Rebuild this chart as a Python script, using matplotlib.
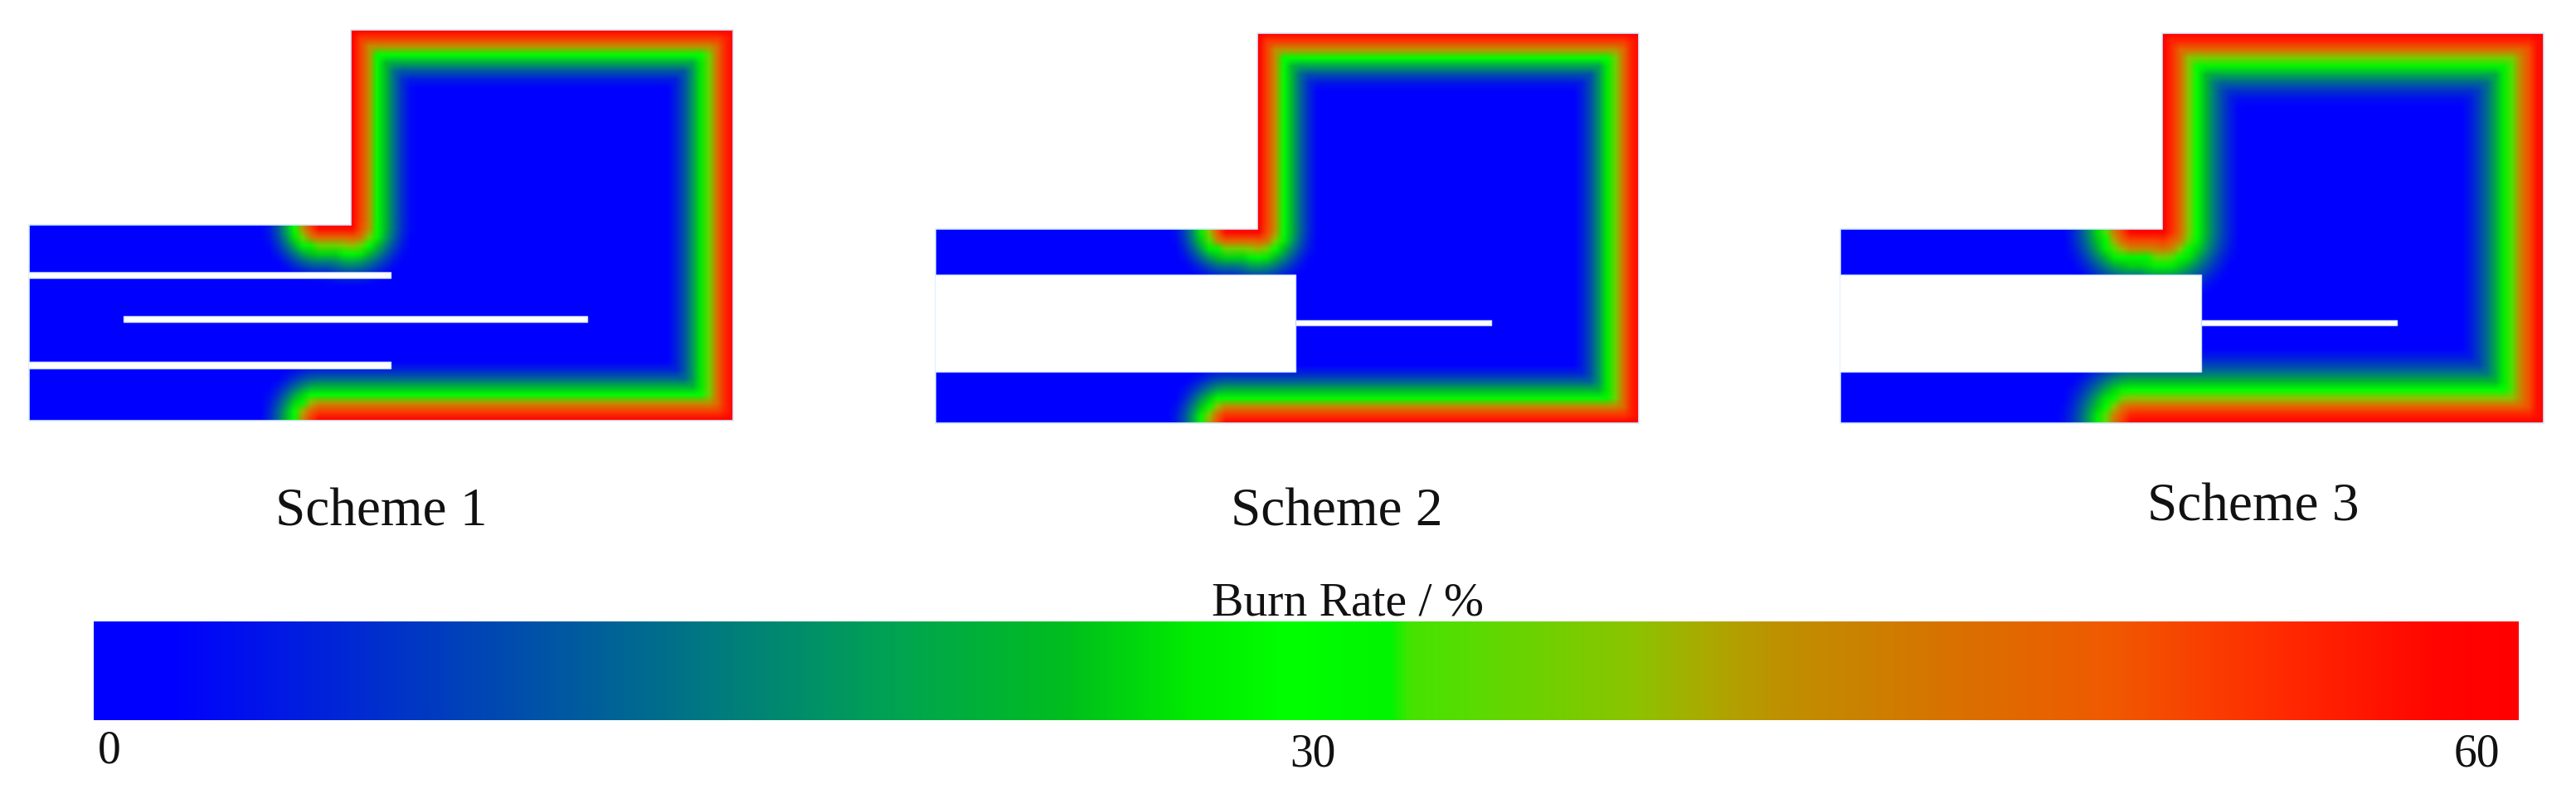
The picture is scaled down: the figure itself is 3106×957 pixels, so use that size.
#!/usr/bin/env python

import numpy as np
import matplotlib
matplotlib.use('Agg')
import matplotlib.pyplot as plt
from matplotlib.colors import LinearSegmentedColormap
from matplotlib.patches import Polygon, Rectangle

plt.rcParams['font.family'] = ['Liberation Serif', 'DejaVu Serif']

depth_px = [0, 6, 12, 18, 24, 30, 36, 42, 48, 56, 64, 74, 82]
burn_pct = [60, 57, 52, 47, 40, 32, 28, 23, 17, 11, 6, 2, 0]

# how much deeper the burn front sits in each scheme
depth_scale = [1.0, 0.98, 1.25]
# and on each wall: top, right, inner, notch, bottom
wall_scale = [0.9, 1.05, 1.0, 0.9, 0.95]

scheme_names = ['Scheme 1', 'Scheme 2', 'Scheme 3']
scheme_label_x = [460, 1612, 2717]
scheme_label_y = [634, 633, 627]

# outline: left, notch x, right, top, notch y, bottom, where the burning wall starts
left = [35, 1128, 2219]
notch_x = [423, 1516, 2607]
right = [884, 1976, 3067]
top = [36, 40, 40]
notch_y = [271, 276, 276]
bottom = [507, 510, 510]
burn_start = [385, 1480, 2572]

# white strips in each scheme: x0, x1, y0, y1
strips = [
  [(31, 471, 328, 335), (149, 708, 381, 388), (31, 471, 436, 444)],
  [(1124, 1562, 331, 448), (1562, 1798, 386, 392)],
  [(2215, 2654, 331, 448), (2654, 2890, 386, 392)],
]

# colour bar, sampled along the reference
cbar_stops = [0.0, 0.03, 0.178, 0.252, 0.333, 0.401, 0.452, 0.492, 0.535, 0.543,
              0.636, 0.665, 0.695, 0.763, 0.831, 0.899, 0.967, 1.0]
cbar_rgb = [(0, 0, 255), (0, 0, 255), (0, 80, 170), (0, 120, 130), (0, 165, 80),
            (0, 190, 30), (0, 235, 0), (0, 255, 0), (0, 245, 0), (70, 228, 0),
            (140, 195, 0), (170, 170, 0), (190, 145, 0), (215, 115, 0), (240, 90, 0),
            (255, 45, 0), (255, 5, 0), (255, 0, 0)]
cbar_ticks = ['0', '30', '60']
cbar_tick_x = [132, 1583, 2986]
cbar_tick_y = [920, 923, 923]

CELL = 10
W, H = 3106, 957

burn_cmap = LinearSegmentedColormap.from_list(
  'burn', [(s, tuple(c / 255 for c in rgb)) for s, rgb in zip(cbar_stops, cbar_rgb)], N=512)


def seg_dist(px, py, seg):
  x0, y0, x1, y1 = seg
  # segments are axis aligned so clamp to them
  cx = np.clip(px, min(x0, x1), max(x0, x1))
  cy = np.clip(py, min(y0, y1), max(y0, y1))
  return np.hypot(px - cx, py - cy)


def draw_scheme(ax, i):
  xs = np.arange(left[i] - CELL, right[i] + 2 * CELL, CELL)
  ys = np.arange(top[i] - CELL, bottom[i] + 2 * CELL, CELL)
  px, py = np.meshgrid(xs, ys)
  walls = [
    (notch_x[i], top[i], right[i], top[i]),
    (right[i], top[i], right[i], bottom[i]),
    (notch_x[i], top[i], notch_x[i], notch_y[i]),
    (burn_start[i], notch_y[i], notch_x[i], notch_y[i]),
    (burn_start[i], bottom[i], right[i], bottom[i]),
  ]
  dist = np.min([seg_dist(px, py, s) / k for s, k in zip(walls, wall_scale)], axis=0)
  field = np.interp(dist / depth_scale[i], depth_px, burn_pct)
  im = ax.imshow(field, cmap=burn_cmap, vmin=0, vmax=60, interpolation='bilinear',
                 interpolation_stage='rgba', aspect='auto', zorder=1,
                 extent=(xs[0] - CELL / 2, xs[-1] + CELL / 2, ys[-1] + CELL / 2, ys[0] - CELL / 2))
  outline = Polygon([(left[i], notch_y[i]), (notch_x[i], notch_y[i]), (notch_x[i], top[i]),
                     (right[i], top[i]), (right[i], bottom[i]), (left[i], bottom[i])],
                    closed=True, transform=ax.transData, facecolor='none',
                    edgecolor='#d4ecff', lw=1.2, zorder=2)
  ax.add_patch(outline)
  im.set_clip_path(outline)
  for x0, x1, y0, y1 in strips[i]:
    strip = Rectangle((x0, y0), x1 - x0, y1 - y0, facecolor='white',
                      edgecolor='#c8dcff', lw=1.0, zorder=3)
    ax.add_patch(strip)
    # the strip's pale edge must not stick out past the left of the domain
    strip.set_clip_path(outline)
  ax.text(scheme_label_x[i], scheme_label_y[i], scheme_names[i], fontsize=47,
          ha='center', va='baseline', color='#111111', zorder=4)


def main():
  fig = plt.figure(figsize=(W / 100, H / 100), dpi=100)
  ax = fig.add_axes([0, 0, 1, 1])

  for i in range(len(scheme_names)):
    draw_scheme(ax, i)

  # colour bar along the bottom
  gradient = np.linspace(0, 60, 1024).reshape(1, -1)
  ax.imshow(gradient, cmap=burn_cmap, vmin=0, vmax=60, aspect='auto',
            extent=(113, 3037, 868, 749), zorder=1)
  ax.text(1625, 741, 'Burn Rate / %', fontsize=41.5, ha='center', va='baseline', color='#111111')
  for label, x, y in zip(cbar_ticks, cbar_tick_x, cbar_tick_y):
    ax.text(x, y, label, fontsize=40, ha='center', va='baseline', color='#111111')

  ax.set_xlim(0, W)
  ax.set_ylim(H, 0)
  ax.axis('off')
  fig.savefig('out.png', dpi=100, facecolor='white')


if __name__ == "__main__":
  main()
